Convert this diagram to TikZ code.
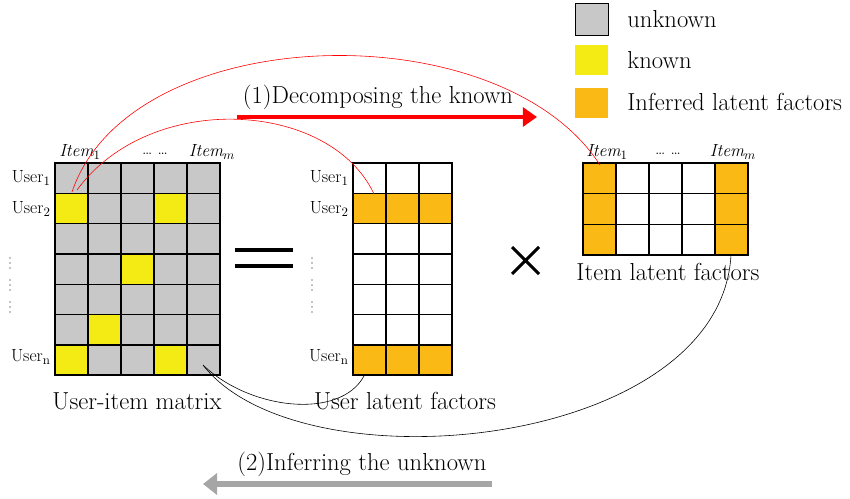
\documentclass[tikz,border=0pt]{standalone}
\usepackage{tikz}
\usetikzlibrary{arrows.meta, calc, positioning}
\definecolor{unk}{RGB}{200,200,200}
\definecolor{kno}{RGB}{245,235,20}
\definecolor{lat}{RGB}{250,185,20}
\begin{document}
\begin{tikzpicture}[x=0.03cm, y=-0.03cm,% pixel grid of the reference
cell/.style = {draw, line width=1.2pt},
lab/.style  = {font=\fontsize{15}{17}\selectfont, inner sep=1pt},
big/.style  = {font=\fontsize{21}{24}\selectfont, inner sep=1pt},
item/.style = {font=\itshape\fontsize{15}{17}\selectfont, inner sep=1pt},
link/.style = {line width=0.5pt}
                   ]
	\useasboundingbox (0,0) rectangle (850,498);

	% legend
	\draw[fill=unk] (575,3) rectangle (608,35);
	\fill[kno] (575,45) rectangle (608,75);
	\fill[lat] (575,88) rectangle (608,118);
	\node[big, anchor=west] (lu) at (626,19) {unknown};
	\node[big, anchor=west] (lk) at (626,60) {known};
	\node[big, anchor=west] (ll) at (626,102) {Inferred latent factors};

	% user-item matrix
	\foreach \r in {1,...,7}
	  \foreach \c in {1,...,5}
	    \draw[cell, fill=unk] ({55+33*(\c-1)},{163+30.3*(\r-1)}) rectangle ++(33,30.3);
	\foreach \r/\c in {2/1, 2/4, 4/3, 6/2, 7/1, 7/4}
	  \draw[cell, fill=kno] ({55+33*(\c-1)},{163+30.3*(\r-1)}) rectangle ++(33,30.3);

	% user latent factors
	\foreach \r in {1,...,7}
	  \foreach \c in {1,...,3}
	    \draw[cell, fill=white] ({353+33*(\c-1)},{163+30.3*(\r-1)}) rectangle ++(33,30.3);
	\foreach \r in {2,7}
	  \foreach \c in {1,...,3}
	    \draw[cell, fill=lat] ({353+33*(\c-1)},{163+30.3*(\r-1)}) rectangle ++(33,30.3);

	% item latent factors
	\foreach \r in {1,...,3}
	  \foreach \c in {1,...,5}
	    \draw[cell, fill=white] ({583+33*(\c-1)},{163+30.7*(\r-1)}) rectangle ++(33,30.7);
	\foreach \r in {1,...,3}
	  \foreach \c in {1,5}
	    \draw[cell, fill=lat] ({583+33*(\c-1)},{163+30.7*(\r-1)}) rectangle ++(33,30.7);

	% row and column labels
	\node[lab, anchor=east] (u1) at (52,178) {User$_1$};
	\node[lab, anchor=east] (u2) at (52,209) {User$_2$};
	\node[lab, anchor=east] (un) at (52,357) {User$_\mathrm{n}$};
	\node[lab, anchor=east] (v1) at (350,178) {User$_1$};
	\node[lab, anchor=east] (v2) at (350,209) {User$_2$};
	\node[lab, anchor=east] (vn) at (350,357) {User$_\mathrm{n}$};
	% vertical dots
	\foreach \x in {10,312}
	  \foreach \y in {258,263,268, 280,285,290, 302,307,312}
	    \fill (\x,\y) circle (0.6pt);
	\node[item] (i1) at (80,152) {Item$_1$};
	\node[lab] (id) at (155,154) {\dots\ \dots};
	\node[item] (im) at (212,152) {Item$_m$};
	\node[item] (j1) at (607,152) {Item$_1$};
	\node[lab] (jd) at (668,154) {\dots\ \dots};
	\node[item] (jm) at (733,152) {Item$_m$};

	% captions and operators
	\node[big] (cap1) at (137,401) {User-item matrix};
	\node[big] (cap2) at (405,401) {User latent factors};
	\node[big] (cap3) at (668,272) {Item latent factors};
	\draw[line width=3pt] (235,250) -- (293,250) (235,266) -- (293,266);
	\draw[line width=2.5pt] (512,247) -- (539,274) (512,274) -- (539,247);

	% decomposition and inference arrows
	\coordinate (d0) at (237,117);
	\coordinate (d1) at (537,117);
	\draw[red, line width=4pt, -{Triangle[length=12pt,width=16pt]}] (d0) -- (d1)
	  node[big, black, pos=0.47, above=3pt] {(1)Decomposing the known};
	\coordinate (f0) at (492,484);
	\coordinate (f1) at (203,484);
	\draw[gray!70, line width=5pt, -{Triangle[length=12pt,width=18pt]}] (f0) -- (f1)
	  node[big, black, pos=0.45, above=3pt] {(2)Inferring the unknown};

	% thin links
	\coordinate (a) at (72,192);
	\coordinate (b) at (77,190);
	\coordinate (c) at (600,165);
	\coordinate (d) at (374,194);
	\coordinate (e) at (203,365);
	\coordinate (g) at (364,376);
	\coordinate (h) at (731,255);
	\draw[link, red] (a) .. controls (130,20) and (500,10) .. (c);
	\draw[link, red] (b) .. controls (150,90) and (330,100) .. (d);
	\draw[link] (e) .. controls (250,410) and (340,420) .. (g);
	\draw[link] (e) .. controls (300,490) and (720,450) .. (h);
\end{tikzpicture}
\end{document}
